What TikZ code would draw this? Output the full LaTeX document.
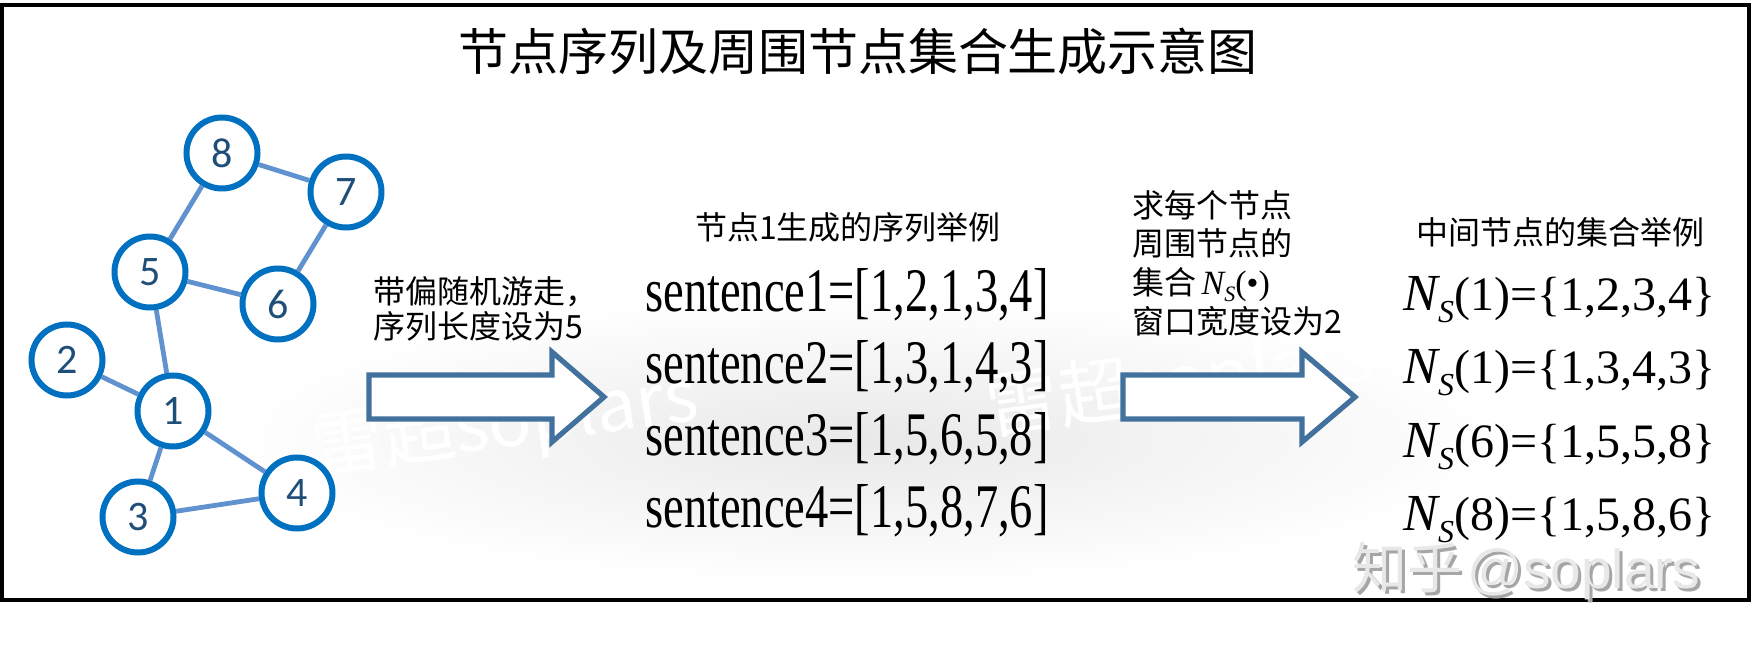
\documentclass[tikz,border=0pt]{standalone}
\usepackage{fontspec}
\setmainfont{Liberation Serif}
\newfontfamily\cjk{Noto Sans CJK SC}
\newfontfamily\tnr[FakeStretch=0.75]{Liberation Serif}
\newfontfamily\numfont{Carlito}
\newfontfamily\lsans{Liberation Sans}
\usetikzlibrary{fadings}
\tikzfading[name=glow, inner color=transparent!0, outer color=transparent!100]
\definecolor{nodeblue}{RGB}{0,112,192}
\definecolor{edgeblue}{RGB}{96,146,208}
\definecolor{labelblue}{RGB}{31,78,121}
\definecolor{arrowblue}{RGB}{65,113,156}
\newcommand\NSbig[1]{{\fontsize{26}{26}\selectfont\itshape N}\raisebox{-6pt}{\fontsize{16}{16}\selectfont\itshape S}(#1)=}
\begin{document}
\begin{tikzpicture}[x=0.5pt,y=-0.5pt,
  gnode/.style={circle, draw=nodeblue, line width=3pt, fill=white, minimum size=35.5pt, inner sep=0pt, font=\numfont\fontsize{21}{21}\selectfont, text=labelblue},
  gedge/.style={draw=edgeblue, line width=2.4pt},
  blockarrow/.style={draw=arrowblue, line width=2.6pt, fill=white, line join=miter},
  cjktext/.style={inner sep=0pt, anchor=base west, font=\cjk\fontsize{16}{16}\selectfont},
  sent/.style={inner sep=0pt, anchor=base west, font=\tnr\fontsize{31}{31}\selectfont},
  nset/.style={inner sep=0pt, anchor=base west, font=\fontsize{24}{24}\selectfont},
  wmark/.style={rotate=8, text=white, font=\cjk\fontsize{36}{36}\selectfont, inner sep=0pt}
]
\useasboundingbox (0,0) rectangle (1753,648);
\fill[white] (0,0) rectangle (1753,648);
% soft grey band behind the middle
\fill[gray!17, path fading=glow] (240,300) rectangle (1490,580);
% faint watermarks
\node[wmark] (wm1) at (505,425) {雷超soplars};
\node[wmark] (wm2) at (1180,385) {雷超soplars};
% frame
\draw[line width=2pt] (2,5) rectangle (1749,600);
% title
\node[inner sep=0pt, anchor=base, font=\cjk\fontsize{25}{25}\selectfont] (title) at (858,70) {节点序列及周围节点集合生成示意图};
% graph
\node[gnode] (n8) at (222,153) {8};
\node[gnode] (n7) at (346,192) {7};
\node[gnode] (n5) at (150,272) {5};
\node[gnode] (n6) at (278,304) {6};
\node[gnode] (n2) at (67,360) {2};
\node[gnode] (n1) at (173,411) {1};
\node[gnode] (n4) at (297,493) {4};
\node[gnode] (n3) at (138,517) {3};
\draw[gedge] (n8) -- (n7);
\draw[gedge] (n8) -- (n5);
\draw[gedge] (n5) -- (n6);
\draw[gedge] (n6) -- (n7);
\draw[gedge] (n5) -- (n1);
\draw[gedge] (n2) -- (n1);
\draw[gedge] (n1) -- (n4);
\draw[gedge] (n1) -- (n3);
\draw[gedge] (n3) -- (n4);
% first block arrow and its label
\draw[blockarrow] (369,375) -- (552,375) -- (552,352) -- (604,397) -- (552,442) -- (552,419) -- (369,419) -- cycle;
\node[cjktext] (lab1a) at (373,303) {带偏随机游走，};
\node[cjktext] (lab1b) at (373,338) {序列长度设为5};
% sentences
\node[cjktext, anchor=base] (sh) at (848,239) {节点1生成的序列举例};
\node[sent] (s1) at (645,311) {sentence1=[1,2,1,3,4]};
\node[sent] (s2) at (645,383) {sentence2=[1,3,1,4,3]};
\node[sent] (s3) at (645,455) {sentence3=[1,5,6,5,8]};
\node[sent] (s4) at (645,527) {sentence4=[1,5,8,7,6]};
% second block arrow and its label
\draw[blockarrow] (1123,375) -- (1302,375) -- (1302,352) -- (1355,397) -- (1302,442) -- (1302,419) -- (1123,419) -- cycle;
\node[cjktext] (lab2a) at (1132,217) {求每个节点};
\node[cjktext] (lab2b) at (1132,255) {周围节点的};
\node[cjktext] (lab2c) at (1132,294) {集合\,{\rmfamily\fontsize{17}{17}\selectfont\itshape N}\raisebox{-3.5pt}{\rmfamily\fontsize{11}{11}\selectfont\itshape S}{\rmfamily\fontsize{17}{17}\selectfont(•)}};
\node[cjktext] (lab2d) at (1132,333) {窗口宽度设为2};
% neighbour sets
\node[cjktext, anchor=base] (nh) at (1560,244) {中间节点的集合举例};
\node[nset] (m1) at (1403,310) {\NSbig{1}\{1,2,3,4\}};
\node[nset] (m2) at (1403,383) {\NSbig{1}\{1,3,4,3\}};
\node[nset] (m3) at (1403,457) {\NSbig{6}\{1,5,5,8\}};
\node[nset] (m4) at (1403,530) {\NSbig{8}\{1,5,8,6\}};
% zhihu watermark
\node[inner sep=0pt, anchor=base west, text=gray!70] (zhs) at (1355,591) {{\cjk\fontsize{27.5}{27.5}\selectfont 知乎} {\lsans\fontsize{27.5}{27.5}\selectfont @soplars}};
\node[inner sep=0pt, anchor=base west, text=gray!18] (zh) at (1352,588) {{\cjk\fontsize{27.5}{27.5}\selectfont 知乎} {\lsans\fontsize{27.5}{27.5}\selectfont @soplars}};
\end{tikzpicture}
\end{document}
